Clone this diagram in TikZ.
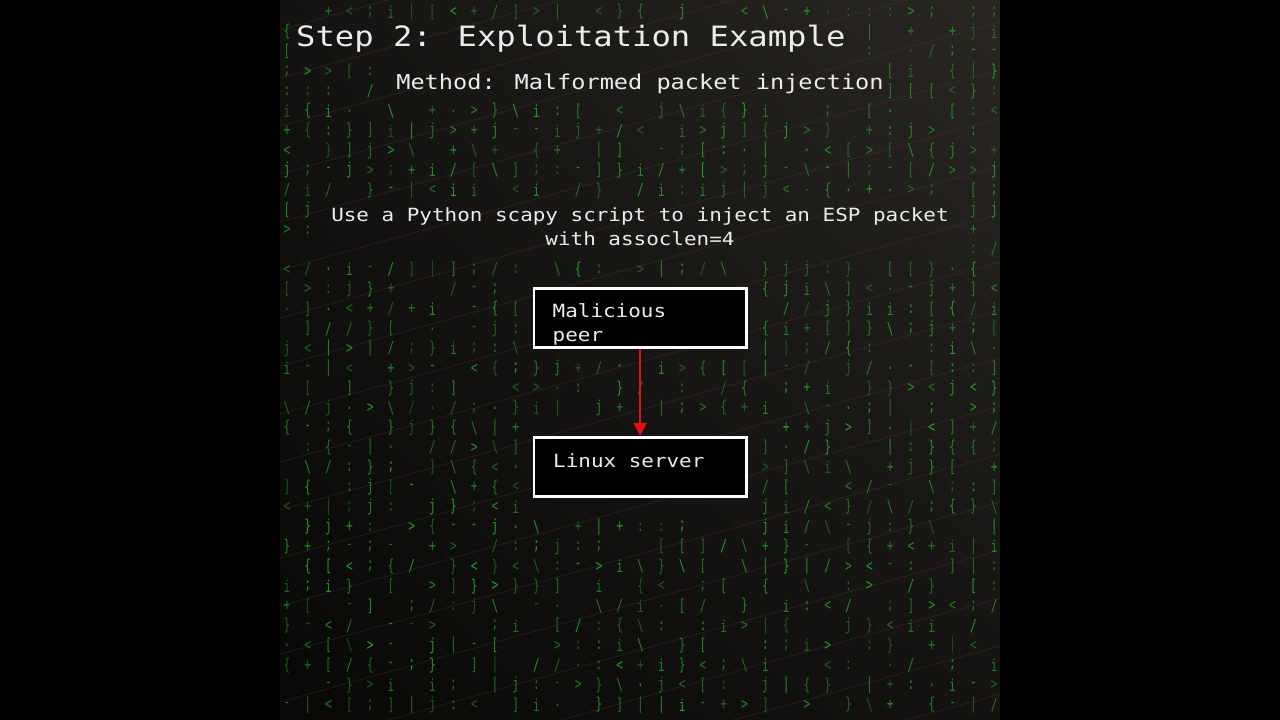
\documentclass[tikz,border=0pt]{standalone}
\usepackage{fontspec}
\usetikzlibrary{arrows.meta,shadings}
\newfontfamily\monofont[FakeStretch=1.15]{DejaVu Sans Mono}
\newfontfamily\bgfont[FakeStretch=0.68]{DejaVu Sans Mono}
\definecolor{panelUL}{RGB}{20,19,17}
\definecolor{panelUR}{RGB}{42,39,35}
\definecolor{panelLL}{RGB}{8,8,7}
\definecolor{panelLR}{RGB}{20,19,17}
\definecolor{streak}{RGB}{95,62,58}
\definecolor{matrixgreen}{RGB}{38,165,38}
\definecolor{txt}{RGB}{236,236,236}
\definecolor{arrowred}{RGB}{222,18,18}
\newcommand\bgglyph[1]{\ifcase#1 [\or ]\or \{\or \}\or <\or >\or /\or \textbackslash\or +\or -\or .\or :\or |\or i\or j\or ;\or \fi}
\tikzset{
  bgch/.style={font=\bgfont\fontsize{16.5}{16.5}\selectfont, text=matrixgreen, inner sep=0},
  titletext/.style={font=\monofont\fontsize{28.0}{34}\selectfont, text=txt, inner sep=0},
  subtext/.style={font=\monofont\fontsize{20.5}{25}\selectfont, text=txt, inner sep=0},
  bodytext/.style={font=\monofont\fontsize{18.2}{24}\selectfont, text=txt, inner sep=0},
  boxnode/.style={draw=white, fill=black, line width=2.7pt, minimum width=212.3pt, minimum height=59pt, inner sep=0},
  flowarrow/.style={draw=arrowred, line width=2.5pt, -{Triangle[width=13pt,length=13pt]}}
}
\begin{document}
\begin{tikzpicture}[x=1pt,y=-1pt]
\useasboundingbox (0,0) rectangle (1280,720);
\fill[black] (0,0) rectangle (1280,720);
\shade[upper left=panelUL, upper right=panelUR, lower left=panelLL, lower right=panelLR] (280,0) rectangle (1000,720);
\begin{scope}
  \clip (280,0) rectangle (1000,720);
  \foreach \k in {0,...,18}
    \draw[streak, line width=0.8pt, opacity=0.3] (280,30+\k*48) -- (1000,30+\k*48-200);
  \pgfmathsetseed{11}
  \foreach \i in {0,...,34}{
    \foreach \j in {0,...,35}{
      \pgfmathrandominteger{\g}{0}{18}
      \pgfmathsetmacro{\op}{0.45+0.5*rnd}
      \pgfmathsetmacro{\gx}{287+\i*20.8}
      \pgfmathsetmacro{\gy}{12+\j*19.8}
      \pgfmathtruncatemacro{\hide}{((\gx>291)&&(\gx<853)&&(\gy>14)&&(\gy<63)) || ((\gx>391)&&(\gx<889)&&(\gy>63)&&(\gy<104)) || ((\gx>327)&&(\gx<953)&&(\gy>197)&&(\gy<259)) || ((\gx>526)&&(\gx<754)&&(\gy>276)&&(\gy<360)) || ((\gx>526)&&(\gx<754)&&(\gy>425)&&(\gy<509))}
      \ifnum\hide=0
        \node[bgch, opacity=\op] (bg-\i-\j) at (\gx,\gy) {\bgglyph{\g}};
      \fi
    }
  }
\end{scope}
\node[titletext, anchor=base west] (title) at (296,46) {Step 2: Exploitation Example};
\node[subtext, anchor=base] (subtitle) at (640,89) {Method: Malformed packet injection};
\node[bodytext, anchor=base] (desc1) at (640,221) {Use a Python scapy script to inject an ESP packet};
\node[bodytext, anchor=base] (desc2) at (640,245.3) {with assoclen=4};
\node[boxnode] (peer) at (640.15,318.2) {};
\node[boxnode] (server) at (640.15,466.7) {};
\node[bodytext, anchor=base west] (peerA) at (552.5,317.3) {Malicious};
\node[bodytext, anchor=base west] (peerB) at (552.5,341.7) {peer};
\node[bodytext, anchor=base west] (serverA) at (553,467.3) {Linux server};
\draw[flowarrow] (peer.south) -- (server.north);
\end{tikzpicture}
\end{document}
